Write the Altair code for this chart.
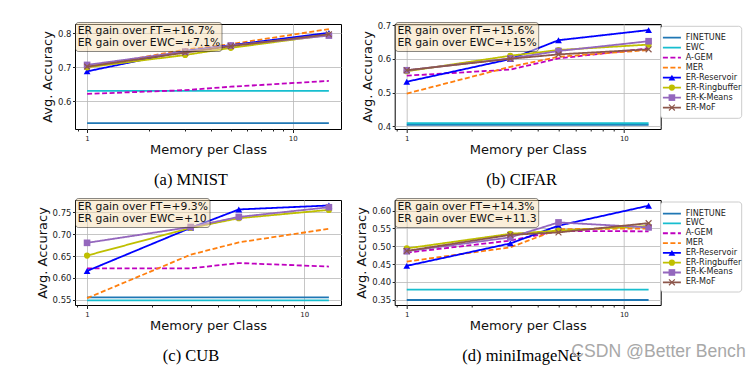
import altair as alt
import pandas as pd

# ---------------- data ----------------
METHODS = ["FINETUNE", "EWC", "A-GEM", "MER", "ER-Reservoir",
           "ER-Ringbuffer", "ER-K-Means", "ER-MoF"]

mem_mnist = [1, 3, 5, 15]
mem_rest = [1, 3, 5, 13]

mnist = {
    "FINETUNE": [0.536, 0.536, 0.536, 0.536],
    "EWC": [0.631, 0.631, 0.631, 0.631],
    "A-GEM": [0.622, 0.633, 0.643, 0.660],
    "MER": [0.700, 0.752, 0.768, 0.812],
    "ER-Reservoir": [0.688, 0.748, 0.765, 0.801],
    "ER-Ringbuffer": [0.700, 0.736, 0.757, 0.795],
    "ER-K-Means": [0.707, 0.746, 0.764, 0.793],
    "ER-MoF": [0.702, 0.743, 0.762, 0.797],
}
cifar = {
    "FINETUNE": [0.404, 0.404, 0.404, 0.404],
    "EWC": [0.409, 0.409, 0.409, 0.409],
    "A-GEM": [0.550, 0.568, 0.601, 0.631],
    "MER": [0.497, 0.576, 0.606, 0.626],
    "ER-Reservoir": [0.532, 0.599, 0.655, 0.685],
    "ER-Ringbuffer": [0.563, 0.609, 0.626, 0.642],
    "ER-K-Means": [0.566, 0.601, 0.623, 0.652],
    "ER-MoF": [0.566, 0.600, 0.613, 0.628],
}
cub = {
    "FINETUNE": [0.556, 0.556, 0.556, 0.556],
    "EWC": [0.549, 0.549, 0.549, 0.549],
    "A-GEM": [0.622, 0.622, 0.634, 0.626],
    "MER": [0.554, 0.653, 0.681, 0.712],
    "ER-Reservoir": [0.616, 0.714, 0.756, 0.765],
    "ER-Ringbuffer": [0.651, 0.714, 0.736, 0.755],
    "ER-K-Means": [0.680, 0.716, 0.739, 0.761],
}
mini = {
    "FINETUNE": [0.349, 0.349, 0.349, 0.349],
    "EWC": [0.378, 0.378, 0.378, 0.378],
    "A-GEM": [0.482, 0.516, 0.543, 0.542],
    "MER": [0.457, 0.497, 0.548, 0.550],
    "ER-Reservoir": [0.445, 0.508, 0.558, 0.614],
    "ER-Ringbuffer": [0.494, 0.535, 0.544, 0.557],
    "ER-K-Means": [0.486, 0.525, 0.567, 0.553],
    "ER-MoF": [0.487, 0.532, 0.539, 0.565],
}

gain_a = "ER gain over FT=+16.7%\nER gain over EWC=+7.1%"
gain_b = "ER gain over FT=+15.6%\nER gain over EWC=+15%"
gain_c = "ER gain over FT=+9.3%\nER gain over EWC=+10"
gain_d = "ER gain over FT=+14.3%\nER gain over EWC=+11.3"

yticks_a = [0.6, 0.7, 0.8]
yticks_b = [0.4, 0.5, 0.6, 0.7]
yticks_c = [0.55, 0.60, 0.65, 0.70, 0.75]
yticks_d = [0.35, 0.40, 0.45, 0.50, 0.55, 0.60]
xticks = [0.9, 1, 2, 3, 4, 5, 6, 7, 8, 9, 10]

captions = ["(a) MNIST", "(b) CIFAR", "(c) CUB", "(d) miniImageNet"]
watermark = "CSDN @Better Bench"

# ---------------- styles ----------------
COLORS = ["#1f77b4", "#17becf", "#bf00bf", "#ff7f0e", "#0000ff",
          "#bfbf00", "#9467bd", "#8c564b"]
DASHES = [[1, 0], [1, 0], [5, 2.5], [5, 2.5], [1, 0], [1, 0], [1, 0], [1, 0]]
XPATH = "M-1,-1L1,1M-1,1L1,-1"
MARKERS = {
    "ER-Reservoir": ("triangle-up", True, 46),
    "ER-Ringbuffer": ("circle", True, 38),
    "ER-K-Means": ("square", True, 44),
    "ER-MoF": (XPATH, False, 34),
}
W, H = 266, 105
FONT = "DejaVu Sans"
LW = 1.8

cscale = alt.Scale(domain=METHODS, range=COLORS)
major = "datum.value == 1 || datum.value == 10"


def legend_layer(y0, y1, box):
    legdf = pd.DataFrame({"method": METHODS})
    ly = alt.Y("method:N", scale=alt.Scale(domain=METHODS, type="point", range=[y0, y1]), axis=None)
    col = alt.Color("method:N", scale=cscale, legend=None)
    lbox = alt.Chart(pd.DataFrame({"k": [0]})).mark_rect(
        fill="white", stroke="#cccccc", strokeWidth=1, cornerRadius=3
    ).encode(x=alt.value(box[0]), x2=alt.value(box[1]), y=alt.value(box[2]), y2=alt.value(box[3]))
    lrule = alt.Chart(legdf).mark_rule(strokeWidth=LW).encode(
        x=alt.value(box[0] + 2.2), x2=alt.value(box[0] + 20.2), y=ly, color=col,
        strokeDash=alt.StrokeDash("method:N", scale=alt.Scale(domain=METHODS, range=DASHES), legend=None),
    )
    layers = [lbox, lrule]
    for m, (shape, filled, size) in MARKERS.items():
        pt = alt.Chart(legdf).transform_filter(alt.datum.method == m)
        if filled:
            mk = pt.mark_point(shape=shape, filled=True, size=size, opacity=1)
        else:
            mk = pt.mark_point(shape=shape, filled=False, size=size, opacity=1, strokeWidth=1.2)
        layers.append(mk.encode(x=alt.value(box[0] + 11.2), y=ly, color=col))
    ltext = alt.Chart(legdf).mark_text(
        align="left", baseline="middle", font=FONT, fontSize=8.1, color="#222"
    ).encode(x=alt.value(box[0] + 25), y=ly, text="method:N")
    layers.append(ltext)
    return alt.layer(*layers)


def panel(mem, series, ydom, yticks, yfmt, gain, box_w, caption, cap_dx, legend=None):
    rows = []
    for m in METHODS:
        if m in series:
            for xv, v in zip(mem, series[m]):
                rows.append({"method": m, "mem": xv, "acc": v})
    df = pd.DataFrame(rows)
    xdom = [0.8733, 17.18] if mem[-1] == 15 else [0.880, 14.78]
    xaxis = alt.Axis(
        values=xticks,
        labelExpr="datum.value == 1 ? '1' : (datum.value == 10 ? '10' : '')",
        tickSize={"condition": {"test": major, "value": 3.5}, "value": 2},
        gridOpacity={"condition": {"test": major, "value": 1}, "value": 0},
        labelFontSize=7, labelPadding=1.5, titleFontSize=13, titlePadding=2,
        labelFlush=False, labelOverlap=False,
    )
    yaxis = alt.Axis(values=yticks, format=yfmt, labelFontSize=8.5, tickSize=2.5,
                     labelPadding=1.5, titleFontSize=13, titlePadding=3)
    x = alt.X("mem:Q", scale=alt.Scale(type="log", domain=xdom, nice=False),
              axis=xaxis, title="Memory per Class")
    y = alt.Y("acc:Q", scale=alt.Scale(domain=ydom, nice=False, zero=False),
              axis=yaxis, title="Avg. Accuracy")
    col = alt.Color("method:N", scale=cscale, legend=None)
    base = alt.Chart(df).encode(x=x, y=y, color=col)
    layers = []
    for i, m in enumerate(METHODS):
        if m not in series:
            continue
        b = base.transform_filter(alt.datum.method == m)
        layers.append(b.mark_line(strokeWidth=LW, strokeDash=DASHES[i]))
        if m in MARKERS:
            shape, filled, size = MARKERS[m]
            if filled:
                layers.append(b.mark_point(shape=shape, filled=True, size=size, opacity=1))
            else:
                layers.append(b.mark_point(shape=shape, filled=False, size=size,
                                           opacity=1, strokeWidth=1.2))
    ann = alt.Chart(pd.DataFrame({"text": [gain]}))
    box = ann.mark_rect(fill="#f5deb3", fillOpacity=0.5, stroke="#000000",
                        strokeOpacity=0.45, strokeWidth=1, cornerRadius=3).encode(
        x=alt.value(0.5), x2=alt.value(box_w), y=alt.value(-1.5), y2=alt.value(27.5))
    txt = ann.mark_text(align="left", baseline="top", lineBreak="\n", lineHeight=12.2,
                        font=FONT, fontSize=10.8, color="#111").encode(
        x=alt.value(2.8), y=alt.value(1.2), text="text:N")
    layers += [box, txt]
    main = alt.layer(*layers)
    if legend is not None:
        chart = alt.layer(main, legend).resolve_scale(y="independent")
    else:
        chart = main
    return chart.properties(
        width=W, height=H,
        title=alt.TitleParams(caption, orient="bottom", frame="group", anchor="middle",
                              font="Liberation Serif", fontSize=16.5, fontWeight="normal",
                              color="#000", offset=16, dx=cap_dx),
    )


pa = panel(mem_mnist, mnist, [0.519, 0.827], yticks_a, ".1f", gain_a, 147, captions[0], -17)
pb = panel(mem_rest, cifar, [0.392, 0.703], yticks_b, ".1f", gain_b, 144, captions[1], -6,
           legend=legend_layer(8.6, 88.6, [266.0, 347.0, 2.3, 94.3]))
pc = panel(mem_rest, cub, [0.5385, 0.7775], yticks_c, ".2f", gain_c, 135, captions[2], -17)
pd_ = panel(mem_rest, mini, [0.335, 0.630], yticks_d, ".2f", gain_d, 144, captions[3], -6,
            legend=legend_layer(8.7, 87.2, [266.0, 347.0, 2.0, 92.0]))

chart = alt.concat(pa, pb, pc, pd_, columns=2, spacing={"row": 71, "column": 53.7},
                   bounds="flush").properties(
    padding={"left": 27, "top": 12, "right": 0, "bottom": 0},
    title=alt.TitleParams(watermark, orient="bottom", anchor="end", font="Liberation Sans",
                          fontSize=17.6, fontWeight="normal", color="#a8a8a8", offset=-22, dx=3),
).configure_view(stroke="#000000", strokeWidth=1).configure_axis(
    labelFont=FONT, titleFont=FONT, labelColor="#222222", titleColor="#111111",
    tickColor="#222222", domain=False, gridColor="#b8b8b8", gridWidth=0.8,
    titleFontWeight="normal",
)

chart.save("out.html", embed_options={"renderer": "svg", "actions": False})
